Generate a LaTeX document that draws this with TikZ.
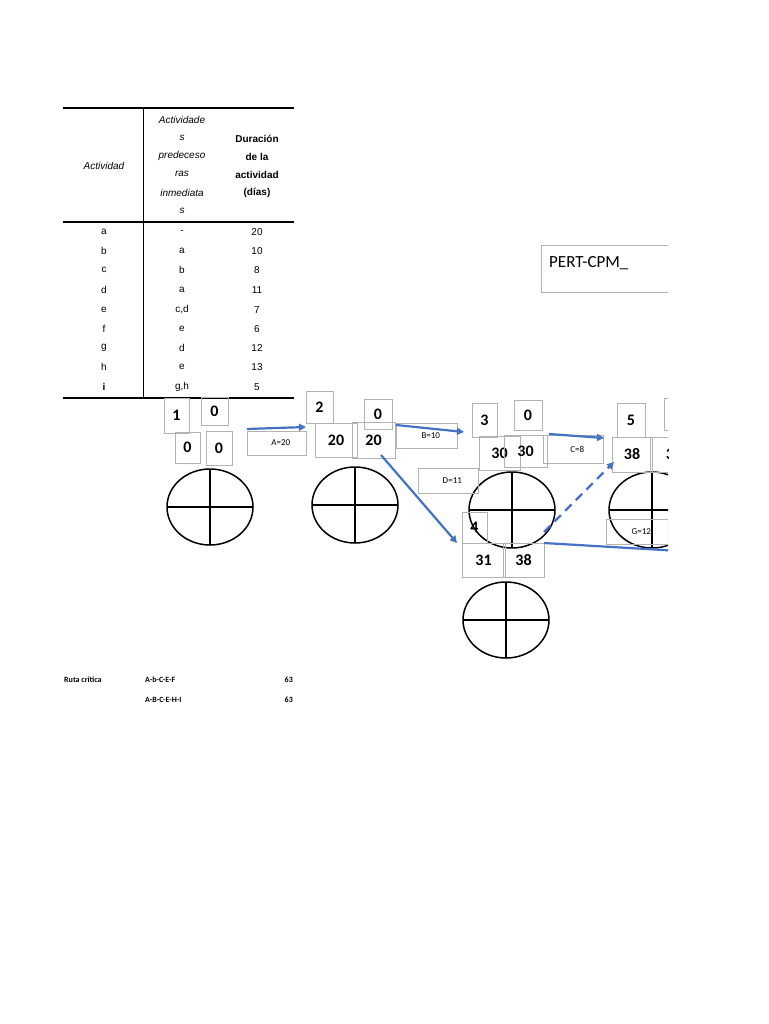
\documentclass[tikz,border=0pt]{standalone}
\usepackage{fontspec}
\setmainfont{Carlito}
\newfontfamily\arial{Liberation Sans}
\usetikzlibrary{arrows.meta}
\begin{document}
\begin{tikzpicture}[x=1pt,y=-1pt,
  gbox/.style={draw=black!30,line width=0.6pt,inner sep=0pt,font=\bfseries\fontsize{16}{16}\selectfont},
  lbox/.style={draw=black!30,line width=0.6pt,inner sep=0pt,font=\fontsize{9}{9}\selectfont,anchor=west},
  tcell/.style={font=\arial\fontsize{10}{11}\selectfont,inner sep=0pt},
  arr/.style={draw=blue!60!black!50!cyan!70!blue,color={rgb,255:red,68;green,114;blue,196},line width=2.2pt,-{Triangle[length=7pt,width=7pt]}},
  ev/.style={draw,line width=1.5pt}]
\useasboundingbox (0,0) rectangle (768,1024);
\fill[white] (0,0) rectangle (768,1024);
% table
\draw[line width=2pt] (63,108) -- (294,108) coordinate (t1);
\draw[line width=2pt] (63,222) -- (294,222);
\draw[line width=2pt] (63,398) -- (294,398);
\draw[line width=1pt] (143,108) -- (143,398);
\node[tcell,font=\arial\itshape\fontsize{10}{11}\selectfont] (h1) at (104,166) {Actividad};
\foreach \t/\y [count=\i] in {Actividade/120,s/138,predeceso/156,ras/174,inmediata/193,s/211}
  \node[tcell,font=\arial\itshape\fontsize{10}{11}\selectfont] (h2\i) at (182,\y) {\t};
\foreach \t/\y [count=\i] in {Duración/139,de la/157,actividad/175,(días)/193}
  \node[tcell,font=\arial\bfseries\fontsize{10}{11}\selectfont] (h3\i) at (257,\y) {\t};
\foreach \a/\b/\c/\y [count=\i] in {a/-/20/232,b/a/10/251,c/b/8/270,d/a/11/290,e/{c,d}/7/310,f/e/6/329,g/d/12/348,h/e/13/367}{
  \node[tcell] (ra\i) at (104,\y) {\a};
  \node[tcell] (rb\i) at (182,\y) {\b};
  \node[tcell] (rc\i) at (257,\y) {\c};}
\node[tcell,font=\arial\bfseries\fontsize{10}{11}\selectfont] (ra9) at (104,387) {i};
\node[tcell] (rb9) at (182,387) {g,h};
\node[tcell] (rc9) at (257,387) {5};
\begin{scope}
\clip (0,0) rectangle (668,1024);
% PERT box
\node[draw=black!30,minimum width=150pt,minimum height=47pt,anchor=north west,inner sep=0pt] (pb) at (541,245) {};
\node[anchor=west,font=\fontsize{17}{17}\selectfont,inner sep=0pt] (pt) at (549,263) {PERT-CPM\_};
% events
\foreach \n/\x/\y in {e1/210/507,e2/355/505,e3/512/510,e4/506/620,e5/652/510}{
  \draw[ev] (\x,\y) ellipse (43 and 38);
  \draw[ev] (\x-43,\y) -- (\x+43,\y) (\x,\y-38) -- (\x,\y+38);
  \coordinate (\n) at (\x,\y);}
% number boxes
\foreach \n/\a/\b/\c/\d/\t in {
 n11/164/398/189/433/1, n12/201/397/228/425/0, n13/175/432/200/463/0, n14/206/431/232/465/0,
 n21/306/391/333/423/2, n22/364/399/392/429/0, n23/315/423/357/457/20, n24/352/422/395/458/20,
 n31/472/403/497/437/3, n32/514/400/542/430/0, n33/479/436/520/470/30, n34/504/435/547/467/30,
 n51/617/403/645/437/5, n52/612/437/652/472/38, n53/650/437/690/472/3, n54/664/398/690/430/{},
 n41/462/512/487/543/4, n42/462/543/505/577/31, n43/503/543/544/577/38}{
  \node[gbox,minimum width={\c-\a},minimum height={\d-\b}] (\n) at ({(\a+\c)/2},{(\b+\d)/2}) {\t};}
% labels
\node[lbox,minimum width=59pt,minimum height=24pt] (la) at (247,443) {\hspace{8pt}A=20};
\node[lbox,minimum width=61pt,minimum height=25pt] (lb) at (396,436) {\hspace{8pt}B=10};
\node[lbox,minimum width=60pt,minimum height=28pt] (lc) at (543,449) {\hspace{8pt}C=8};
\node[lbox,minimum width=60pt,minimum height=25pt] (ld) at (418,481) {\hspace{8pt}D=11};
\node[lbox,minimum width=62pt,minimum height=25pt] (lg) at (606,532) {\hspace{8pt}G=12};
% arrows
\coordinate (a1) at (247,429); \coordinate (a2) at (306,427);
\coordinate (b1) at (396,425); \coordinate (b2) at (464,432);
\coordinate (c1) at (549,434); \coordinate (c2) at (604,438);
\coordinate (d1) at (381,455); \coordinate (d2) at (457,543);
\coordinate (f1) at (544,532); \coordinate (f2) at (614,462);
\coordinate (g1) at (544,543); \coordinate (g2) at (680,551);
\draw[arr] (a1) -- (a2);
\draw[arr] (b1) -- (b2);
\draw[arr] (c1) -- (c2);
\draw[arr] (d1) -- (d2);
\draw[arr,dash pattern=on 9pt off 6pt] (f1) -- (f2);
\draw[arr,-] (g1) -- (g2);
\end{scope}
% bottom
\node[anchor=west,font=\bfseries\fontsize{8}{8}\selectfont,inner sep=0pt] (rc) at (64,680) {Ruta crítica};
\node[anchor=west,font=\bfseries\fontsize{8}{8}\selectfont,inner sep=0pt] (r1) at (145,680) {A-b-C-E-F};
\node[anchor=east,font=\bfseries\fontsize{8}{8}\selectfont,inner sep=0pt] (v1) at (293,680) {63};
\node[anchor=west,font=\bfseries\fontsize{8}{8}\selectfont,inner sep=0pt] (r2) at (145,700) {A-B-C-E-H-I};
\node[anchor=east,font=\bfseries\fontsize{8}{8}\selectfont,inner sep=0pt] (v2) at (293,700) {63};
\end{tikzpicture}
\end{document}
